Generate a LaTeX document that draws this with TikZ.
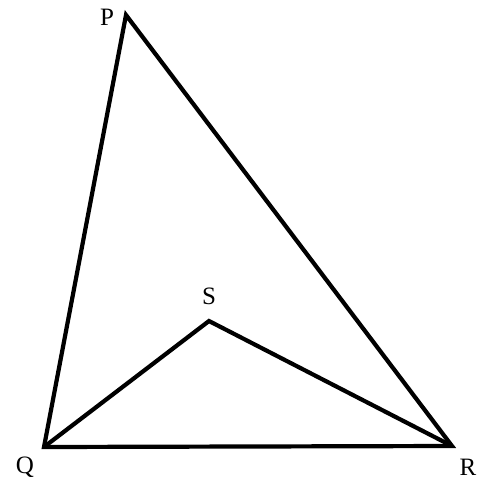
\documentclass[tikz,border=0pt]{standalone}
\usepackage{fontspec}
\setmainfont{Liberation Serif}
\begin{document}
\begin{tikzpicture}[x=1pt,y=-1pt,
  edge/.style={line width=4.2pt,black,line join=miter},
  lbl/.style={font=\fontsize{25}{25}\selectfont,inner sep=0pt}]
\useasboundingbox (0,0) rectangle (486,488);
\coordinate (P) at (126,15);
\coordinate (Q) at (44,447);
\coordinate (R) at (452,446);
\coordinate (S) at (209,321);
\draw[edge] (P) -- (Q) -- (R) -- cycle;
\draw[edge] (Q) -- (S) -- (R);
\node[lbl] (lP) at (107,17) {P};
\node[lbl] (lQ) at (25,467) {Q};
\node[lbl] (lR) at (468,467) {R};
\node[lbl] (lS) at (209,296) {S};
\end{tikzpicture}
\end{document}
